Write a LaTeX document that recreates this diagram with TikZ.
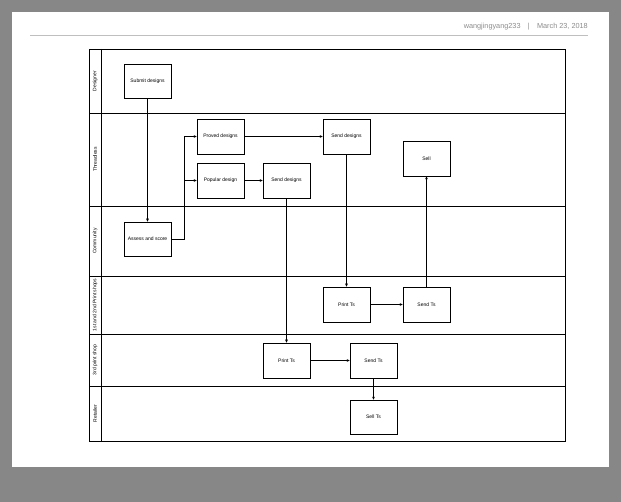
\documentclass[tikz,border=0pt]{standalone}
\usepackage{fontspec}
\setmainfont{Liberation Sans}
\usetikzlibrary{arrows.meta}
\begin{document}
\begin{tikzpicture}[x=1pt,y=-1pt,
  bx/.style={draw,line width=0.5pt,fill=white,inner sep=0pt,font=\fontsize{5}{6}\selectfont},
  ar/.style={draw,line width=0.5pt,-{Triangle[length=3pt,width=2.5pt]}},
  lanelab/.style={rotate=90,font=\fontsize{5}{6}\selectfont}]
\useasboundingbox (0,0) rectangle (621,502);
\fill[black!47] (0,0) rectangle (621,502);
\fill[white] (12,12) rectangle (609,467);
\draw[black!25,line width=0.5pt] (30,35) -- (588,35);
\node[anchor=east,text=black!45,font=\fontsize{7.3}{8}\selectfont,inner sep=0pt] (hdr) at (588,27) {wangjingyang233\quad|\quad March 23, 2018};
% frame
\draw[line width=0.5pt] (89,49) rectangle (565,441);
\draw[line width=0.5pt] (101,49) -- (101,441);
\foreach \y in {113,206,276,334,386} \draw[line width=0.5pt] (89,\y) -- (565,\y);
\node[lanelab] (l1) at (95,81) {Designer};
\node[lanelab] (l2) at (95,159.5) {Threadless};
\node[lanelab] (l3) at (95,241) {Community};
\node[lanelab] (l4) at (95,305) {1st and 2nd Print shops};
\node[lanelab] (l5) at (95,360) {3rd print shop};
\node[lanelab] (l6) at (95,413.5) {Retailer};
% boxes
\newcommand{\bxat}[6]{\node[bx,minimum width={#4-#2},minimum height={#5-#3}] (#1) at ({(#2+#4)/2},{(#3+#5)/2}) {#6};}
\bxat{submit}{124}{64}{171}{98}{Submit designs}
\bxat{proved}{197}{119}{244}{154}{Proved designs}
\bxat{popular}{197}{163}{244}{198}{Popular design}
\bxat{sendm}{263}{163}{310}{198}{Send designs}
\bxat{sendt}{323}{119}{370}{154}{Send designs}
\bxat{sell}{403}{141}{450}{176}{Sell}
\bxat{assess}{124}{222}{171}{256}{Assess and score}
\bxat{printa}{323}{287}{370}{322}{Print Ts}
\bxat{senda}{403}{287}{450}{322}{Send Ts}
\bxat{printb}{263}{343}{310}{378}{Print Ts}
\bxat{sendb}{350}{343}{397}{378}{Send Ts}
\bxat{sellts}{350}{400}{397}{434}{Sell Ts}
% connectors
\draw[ar] (submit) -- (assess);
\coordinate (jx) at (184,239);
\draw[ar] (assess.east) -- (jx) |- (proved.west);
\draw[ar] (jx) |- (popular.west);
\draw[ar] (proved) -- (sendt);
\draw[ar] (popular) -- (sendm);
\draw[ar] (sendt) -- (printa);
\draw[ar] (sendm) -- (printb);
\draw[ar] (printa) -- (senda);
\draw[ar] (senda) -- (sell);
\draw[ar] (printb) -- (sendb);
\draw[ar] (sendb) -- (sellts);
\end{tikzpicture}
\end{document}
